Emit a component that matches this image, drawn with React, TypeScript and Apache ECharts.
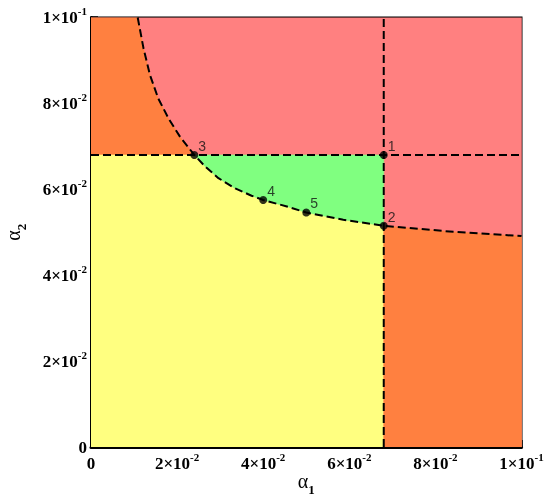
import React, { useEffect, useRef } from "react";
import * as echarts from "echarts";

// boundary curve
const curveX = [0.01085, 0.0122, 0.0137, 0.0156, 0.018, 0.0207, 0.024, 0.0265, 0.0296, 0.0335, 0.0373, 0.04, 0.0455, 0.05, 0.0586, 0.068, 0.0842, 0.1];
const curveY = [0.1, 0.0928, 0.0866, 0.0812, 0.0765, 0.0722, 0.068, 0.0653, 0.0626, 0.0602, 0.0585, 0.0575, 0.056, 0.0546, 0.0529, 0.0515, 0.0501, 0.0491];

// dashed threshold lines
const thresholdX = 0.068;
const thresholdY = 0.068;

// labelled points
const pointLabels = ["1", "2", "3", "4", "5"];
const pointX = [0.068, 0.068, 0.024, 0.04, 0.05];
const pointY = [0.068, 0.0515, 0.068, 0.0575, 0.0546];

// axis range
const axisMin = 0;
const axisMax = 0.1;
const axisStep = 0.02;

const regionColors = ["#FF8080", "#FF8040", "#FFFF80", "#80FF80", "#FF8040"];

const serif = "'Liberation Serif', 'Times New Roman', serif";

function tickFormatter(v: number): string {
  if (Math.abs(v) < 1e-12) return "{m|0}";
  const s = v.toExponential(0); // e.g. "2e-2"
  const [m, e] = s.split("e");
  return `{m|${m}×10}{e|${e}}`;
}

const tickRich = {
  m: { fontFamily: serif, fontWeight: "bold", fontSize: 17, color: "#000", lineHeight: 24 },
  e: { fontFamily: serif, fontWeight: "bold", fontSize: 11, color: "#000", verticalAlign: "top", lineHeight: 12 },
};

const nameRich = {
  a: { fontFamily: serif, fontSize: 20, color: "#000", lineHeight: 22 },
  s: { fontFamily: serif, fontSize: 13, fontWeight: "bold", color: "#000", verticalAlign: "bottom", lineHeight: 13, padding: [0, 0, -4, 0] },
};

export default function App() {
  const ref = useRef<HTMLDivElement>(null);
  useEffect(() => {
    if (!ref.current) return;
    const chart = echarts.init(ref.current, undefined, { renderer: "svg" });

    const curvePts = curveX.map((x, i) => [x, curveY[i]]);
    const i3 = curveX.findIndex((x, i) => x === pointX[2] && curveY[i] === pointY[2]);
    const i2 = curveX.findIndex((x, i) => x === pointX[1] && curveY[i] === pointY[1]);

    const regions: number[][][] = [
      [[axisMin, axisMin], [axisMin, axisMax], [axisMax, axisMax], [axisMax, axisMin]],
      [[axisMin, thresholdY], [axisMin, axisMax], ...curvePts.slice(0, i3 + 1)],
      [[axisMin, axisMin], [axisMin, thresholdY], ...curvePts.slice(i3, i2 + 1), [thresholdX, axisMin]],
      [...curvePts.slice(i3, i2 + 1), [thresholdX, thresholdY]],
      [[thresholdX, axisMin], ...curvePts.slice(i2), [axisMax, axisMin]],
    ];

    const dash = [8, 4];

    chart.setOption({
      animation: false,
      grid: {
        left: 91,
        right: 28.5,
        top: 17.5,
        bottom: 53,
        containLabel: false,
        outerBoundsMode: "none",
        show: true,
        borderColor: "#000",
        borderWidth: 2,
        backgroundColor: "transparent",
      },
      xAxis: {
        type: "value",
        min: axisMin,
        max: axisMax,
        interval: axisStep,
        name: "{a|α}{s|1}",
        nameLocation: "middle",
        nameGap: 23,
        nameMoveOverlap: false,
        nameTextStyle: { rich: nameRich },
        axisLine: { show: true, onZero: false, lineStyle: { color: "#000", width: 3 } },
        axisTick: { show: true, inside: true, length: 7, lineStyle: { color: "#000", width: 2.5 } },
        axisLabel: { margin: 4, formatter: tickFormatter, rich: tickRich },
        splitLine: { show: false },
      },
      yAxis: {
        type: "value",
        min: axisMin,
        max: axisMax,
        interval: axisStep,
        name: "{a|α}{s|2}",
        nameLocation: "middle",
        nameRotate: 90,
        nameGap: 67,
        nameTextStyle: { rich: nameRich },
        axisLine: { show: true, onZero: false, lineStyle: { color: "#000", width: 3 } },
        axisTick: { show: true, inside: true, length: 7, lineStyle: { color: "#000", width: 2.5 } },
        axisLabel: { margin: 4, formatter: tickFormatter, rich: tickRich },
        splitLine: { show: false },
      },
      series: [
        {
          type: "custom",
          silent: true,
          z: 1,
          clip: true,
          data: regions.map(() => [axisMin, axisMin]),
          renderItem: (params: any, api: any) => {
            const idx = params.dataIndex;
            const pts = regions[idx].map((p) => api.coord(p));
            return {
              type: "polygon",
              shape: { points: pts },
              style: { fill: regionColors[idx], stroke: regionColors[idx], lineWidth: 0.5 },
            };
          },
        },
        {
          type: "line",
          z: 3,
          silent: true,
          showSymbol: false,
          data: [[axisMin, thresholdY], [axisMax, thresholdY]],
          lineStyle: { color: "#000", width: 2, type: dash },
        },
        {
          type: "line",
          z: 3,
          silent: true,
          showSymbol: false,
          data: [[thresholdX, axisMin], [thresholdX, axisMax]],
          lineStyle: { color: "#000", width: 2, type: dash },
        },
        {
          type: "line",
          z: 3,
          silent: true,
          showSymbol: false,
          data: curvePts,
          lineStyle: { color: "#000", width: 2, type: dash },
        },
        {
          type: "scatter",
          z: 4,
          symbolSize: 8,
          itemStyle: { color: "#000" },
          data: pointX.map((x, i) => ({ name: pointLabels[i], value: [x, pointY[i]] })),
          label: {
            show: true,
            formatter: "{b}",
            position: "right",
            distance: 0,
            offset: [0, -9],
            fontFamily: "'Liberation Sans', Arial, sans-serif",
            fontSize: 14,
            color: "#111",
          },
        },
      ],
    });
    return () => chart.dispose();
  }, []);
  return <div ref={ref} style={{ position: "fixed", left: 0, top: 0, width: 550, height: 500 }} />;
}
